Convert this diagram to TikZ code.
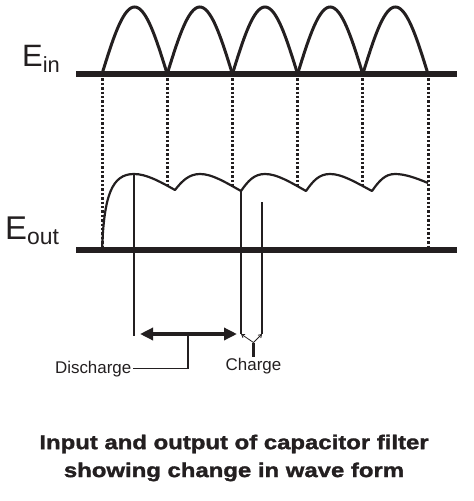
\documentclass[tikz,border=0pt]{standalone}
\usepackage{fontspec}
\setmainfont{Liberation Sans}
\newfontfamily\titlefont[FakeStretch=1.2,FakeBold=1.6]{Liberation Sans Bold}
\usetikzlibrary{arrows.meta}
\definecolor{ink}{HTML}{231F20}

\begin{document}
\begin{tikzpicture}[x=1bp,y=-1bp,color=ink,>={Triangle[length=13bp,width=12bp]},
    axis/.style={line width=6.5bp},
    arch/.style={line width=3bp},
    guide/.style={line width=3bp,dash pattern=on 2.4bp off 2bp},
    outwave/.style={line width=2.2bp,line join=round},
    marker/.style={line width=1.2bp},
    lbl/.style={inner sep=1.5bp,font=\fontsize{17}{20}\selectfont}]
    \useasboundingbox (0,0) rectangle (474,501);
    % input
    \draw[axis] (76,74) -- (457,74);
    \foreach \s in {102,167.2,232.4,297.6,362.8}
        \draw[arch] plot[domain=0:180,samples=41,variable=\a] ({\s+\a*65.2/180},{74-67*sin(\a)});
    \node[anchor=base west,inner sep=0pt] (ein) at (22,67) {\fontsize{31}{31}\selectfont E\raisebox{-5.5bp}{\fontsize{22}{22}\selectfont in}};
    \foreach \s/\e in {102/250,167.2/186,232.4/186,297.6/186,362.8/186,428/250}
        \draw[guide] (\s,74) -- (\s,\e);
    % output
    \draw[axis] (76,250) -- (457,250);
    \node[anchor=base west,inner sep=0pt] (eout) at (5,239) {\fontsize{33}{33}\selectfont E\raisebox{-5bp}{\fontsize{23}{23}\selectfont out}};
    \draw[outwave] (102,250) .. controls (104,195) and (112,174) .. (134,174) coordinate (top)
        .. controls (146,174) and (159,181) .. (175,190)
        .. controls (182,181) and (189,174) .. (200,174)
        .. controls (212,174) and (225,182) .. (241,191) coordinate (low)
        .. controls (248,181) and (254,174) .. (265,174)
        .. controls (277,174) and (290,182) .. (306,191)
        .. controls (313,181) and (319,174) .. (330,174)
        .. controls (342,174) and (355,182) .. (372,191)
        .. controls (379,181) and (385,174) .. (395,174)
        .. controls (405,174) and (416,178) .. (428,183);
    % markers
    \coordinate (gap) at (262,202);
    \coordinate (disL) at (134,336);
    \coordinate (chgL) at (241,334);
    \coordinate (chgR) at (262,334);
    \draw[marker] (top) -- (disL);
    \draw[marker] (low) -- (chgL);
    \draw[marker] (gap) -- (chgR);
    % discharge
    \coordinate (dL) at (140,334);
    \coordinate (dR) at (237,334);
    \coordinate (dM) at (188,334);
    \draw[<->,line width=3.8bp] (dL) -- (dR);
    \node[lbl,anchor=base east] (dis) at (133,373) {Discharge};
    \draw[marker] (dM) |- (dis.east);
    % charge
    \node[lbl,anchor=base] (chg) at (253.5,370.5) {Charge};
    \draw[line width=3bp] (chg.north) -- ++(0,-14) coordinate (fork);
    \draw[line width=0.8bp,-{Straight Barb[length=3bp,width=4bp]}] (fork) -- (chgL);
    \draw[line width=0.8bp,-{Straight Barb[length=3bp,width=4bp]}] (fork) -- (chgR);
    \node[align=center,inner sep=0pt,font=\titlefont\fontsize{20}{28}\selectfont] (title) at (234,458) {Input and output of capacitor filter\\showing change in wave form};
\end{tikzpicture}
\end{document}
